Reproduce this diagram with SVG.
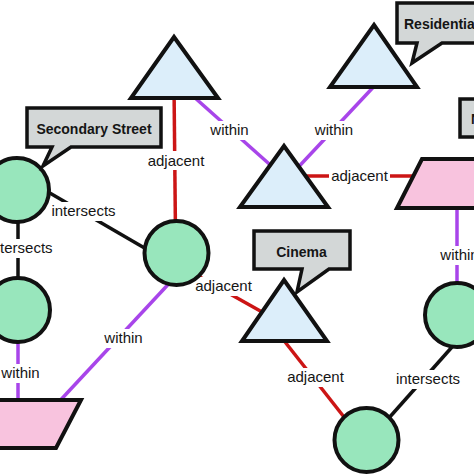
<svg xmlns="http://www.w3.org/2000/svg" width="474" height="474" viewBox="0 0 474 474">
<style>
.edge{fill:none;stroke-width:3.5}
.adj{stroke:#cc1515}
.win{stroke:#a845ea}
.int{stroke:#111}
.tri{fill:#dceefa;stroke:#111;stroke-width:4;stroke-linejoin:miter}
.cir{fill:#98e6bc;stroke:#111;stroke-width:4}
.par{fill:#f8c3de;stroke:#111;stroke-width:4}
.call{fill:#d3d7d7;stroke:#111;stroke-width:3.5;stroke-linejoin:miter}
.lbl{font-family:'Liberation Sans',Arial,sans-serif;font-size:15px;fill:#151515;text-anchor:middle}
.ctxt{font-family:'Liberation Sans',Arial,sans-serif;font-size:14px;font-weight:bold;fill:#151515}
.bg{fill:#fff}
</style>
<rect width="474" height="474" fill="#fff"/>
<g id="connectors">
<line class="edge adj" x1="174" y1="85" x2="175.5" y2="235"/>
<line class="edge win" x1="185" y1="89" x2="276" y2="170"/>
<line class="edge win" x1="380" y1="80" x2="290" y2="176"/>
<line class="edge adj" x1="300" y1="176" x2="420" y2="176"/>
<line class="edge win" x1="457" y1="195" x2="457" y2="300"/>
<line class="edge int" x1="460" y1="338" x2="380" y2="428"/>
<line class="edge adj" x1="278" y1="333" x2="355" y2="431"/>
<line class="edge adj" x1="185" y1="268.7" x2="275" y2="319.3"/>
<line class="edge win" x1="176" y1="276" x2="55" y2="406"/>
<line class="edge int" x1="30" y1="181.4" x2="160" y2="257"/>
<line class="edge int" x1="18" y1="200" x2="18" y2="300"/>
<line class="edge win" x1="18" y1="320" x2="18" y2="410"/>
<g id="labels">
<rect class="bg" x="146" y="151" width="60" height="19"/>
<text class="lbl" x="176" y="166">adjacent</text>
<rect class="bg" x="209" y="121" width="41" height="19"/>
<text class="lbl" x="229.5" y="135">within</text>
<rect class="bg" x="313" y="121" width="42" height="19"/>
<text class="lbl" x="334" y="135">within</text>
<rect class="bg" x="329" y="167" width="61" height="19"/>
<text class="lbl" x="359.5" y="181">adjacent</text>
<rect class="bg" x="49" y="202" width="69" height="19"/>
<text class="lbl" x="83.5" y="216">intersects</text>
<rect class="bg" x="-13" y="239" width="67" height="19"/>
<text class="lbl" x="20.5" y="253">intersects</text>
<rect class="bg" x="0" y="364" width="41" height="19"/>
<text class="lbl" x="20.5" y="378">within</text>
<rect class="bg" x="103" y="329" width="41" height="19"/>
<text class="lbl" x="123.5" y="343">within</text>
<rect class="bg" x="193" y="277" width="61" height="19"/>
<text class="lbl" x="223.5" y="291">adjacent</text>
<rect class="bg" x="285" y="368" width="61" height="19"/>
<text class="lbl" x="315.5" y="382">adjacent</text>
<rect class="bg" x="394" y="370" width="68" height="19"/>
<text class="lbl" x="428" y="384">intersects</text>
<rect class="bg" x="439" y="246" width="41" height="19"/>
<text class="lbl" x="459.5" y="260">within</text>
</g>
</g>
<g id="t1"><polygon class="tri" points="174,37 218,98 131,98"/></g>
<g id="t2"><polygon class="tri" points="374,25 417,87 330,87"/></g>
<g id="t3"><polygon class="tri" points="284,146 328,207 240,207"/></g>
<g id="t4"><polygon class="tri" points="284,280 327,341 242,341"/></g>
<g id="c1"><circle class="cir" cx="17" cy="190" r="32"/></g>
<g id="c2"><circle class="cir" cx="18" cy="310" r="32"/></g>
<g id="c3"><circle class="cir" cx="176.5" cy="253" r="32"/></g>
<g id="c4"><circle class="cir" cx="457" cy="315" r="32"/></g>
<g id="c5"><circle class="cir" cx="366.5" cy="440" r="32"/></g>
<g id="p1"><polygon class="par" points="-60,400 81,400 56,448 -85,448"/></g>
<g id="p2"><polygon class="par" points="422,159 540,159 515,208 397,208"/></g>
<g id="callout-secondary">
<path class="call" d="M27,108 H161 V147 H71 L43,166 L52,147 H27 Z"/>
<text class="ctxt" x="94" y="134" text-anchor="middle">Secondary Street</text>
</g>
<g id="callout-residential">
<path class="call" d="M397,3 H520 V43 H442 L412,63 L417,43 H397 Z"/>
<text class="ctxt" x="404" y="29">Residentia</text>
</g>
<g id="callout-right">
<path class="call" d="M460,99 H530 V137 H460 Z"/>
<text class="ctxt" x="471" y="124">N</text>
</g>
<g id="callout-cinema">
<path class="call" d="M254,231 H350 V269 H329 L297,292 L302,269 H254 Z"/>
<text class="ctxt" x="301.5" y="257" text-anchor="middle">Cinema</text>
</g>
</svg>
